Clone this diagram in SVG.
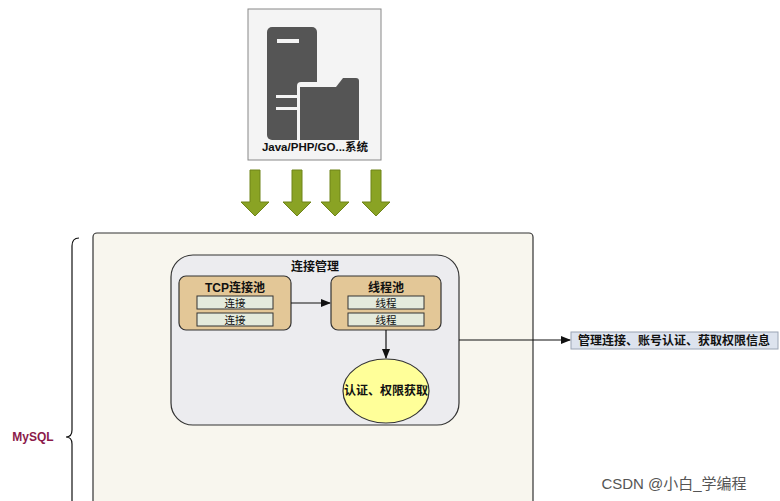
<svg xmlns="http://www.w3.org/2000/svg" width="780" height="501" viewBox="0 0 780 501">
<defs>
<style>
text{font-family:"Liberation Sans","Noto Sans CJK SC",sans-serif;font-weight:bold;font-size:12px;fill:#111;text-anchor:middle}
.pool{fill:#e3c797;stroke:#333;stroke-width:1.2}
.sub{fill:#e4eadc;stroke:#333;stroke-width:1}
.sub-t{font-weight:normal;font-size:10.5px}
.ln{stroke:#111;stroke-width:1.2;fill:none}
.g{fill:#8aa324;stroke:#6e8419;stroke-width:1}
</style>
<marker id="ah" markerWidth="10" markerHeight="8" refX="9" refY="4" orient="auto" markerUnits="userSpaceOnUse"><path d="M0,0 L10,4 L0,8 Z" fill="#111"/></marker>
<path id="garrow" d="M-5,0 H5 V32 H14 L0,46 L-14,32 H-5 Z"/>
</defs>
<rect width="780" height="501" fill="#fff"/>
<g id="client">
<rect x="248" y="9" width="133" height="151" fill="#f4f4f4" stroke="#888"/>
<rect x="267" y="27" width="50" height="113" rx="5" fill="#555"/>
<rect x="277" y="39" width="22" height="4" fill="#f4f4f4"/>
<rect x="276" y="95" width="24" height="3" fill="#f4f4f4"/>
<rect x="276" y="107" width="24" height="3" fill="#f4f4f4"/>
<path d="M297,86 a4,4 0 0 1 4,-4 H356 a4,4 0 0 1 4,4 V141 H297 Z" fill="#f4f4f4"/>
<path d="M300,87 H359 V140 H300 Z" fill="#555"/>
<path d="M336,87 L343,78 H356 a3,3 0 0 1 3,3 V87 Z" fill="#555"/>
<text x="315" y="151" style="font-size:11.5px">Java/PHP/GO...系统</text>
</g>
<g id="green-arrows">
<use href="#garrow" class="g" x="255" y="170"/>
<use href="#garrow" class="g" x="297" y="170"/>
<use href="#garrow" class="g" x="335" y="170"/>
<use href="#garrow" class="g" x="376" y="170"/>
</g>
<g id="mysql">
<rect x="93" y="233" width="440" height="280" rx="4" fill="#f8f6ee" stroke="#333" stroke-width="1.2"/>
<path d="M79,238 Q72,238 72,246 V430 Q72,437 66,437 Q72,437 72,444 V501" class="ln"/>
<text x="33" y="441" style="fill:#8b1a4a">MySQL</text>
</g>
<g id="conn-mgmt">
<rect x="171" y="255" width="288" height="170" rx="22" fill="#ececef" stroke="#333" stroke-width="1.2"/>
<text x="315" y="271">连接管理</text>
</g>
<g id="tcp-pool">
<rect x="179" y="276" width="112" height="54" rx="7" class="pool"/>
<text x="235" y="292">TCP连接池</text>
<rect x="197" y="296" width="76" height="13" class="sub"/>
<text x="235" y="306.5" class="sub-t">连接</text>
<rect x="197" y="313" width="76" height="13" class="sub"/>
<text x="235" y="323.5" class="sub-t">连接</text>
</g>
<g id="thread-pool">
<rect x="331" y="276" width="110" height="54" rx="7" class="pool"/>
<text x="386" y="292">线程池</text>
<rect x="348" y="296" width="76" height="13" class="sub"/>
<text x="386" y="306.5" class="sub-t">线程</text>
<rect x="348" y="313" width="76" height="13" class="sub"/>
<text x="386" y="323.5" class="sub-t">线程</text>
</g>
<g id="auth">
<ellipse cx="386" cy="391" rx="43" ry="32" fill="#ffff99" stroke="#333" stroke-width="1.2"/>
<text x="386" y="395">认证、权限获取</text>
</g>
<g id="note">
<rect x="571" y="332" width="207" height="17" fill="#dde3ee" stroke="#9aa4b4"/>
<text x="674" y="345">管理连接、账号认证、获取权限信息</text>
</g>
<g id="connectors">
<line x1="291" y1="303" x2="330" y2="303" class="ln" marker-end="url(#ah)"/>
<line x1="386" y1="330" x2="386" y2="358" class="ln" marker-end="url(#ah)"/>
<line x1="459" y1="340" x2="570" y2="340" class="ln" marker-end="url(#ah)"/>
</g>
<text x="674" y="489" style="font-weight:normal;font-size:15px;fill:#555">CSDN @小白_学编程</text>
</svg>
